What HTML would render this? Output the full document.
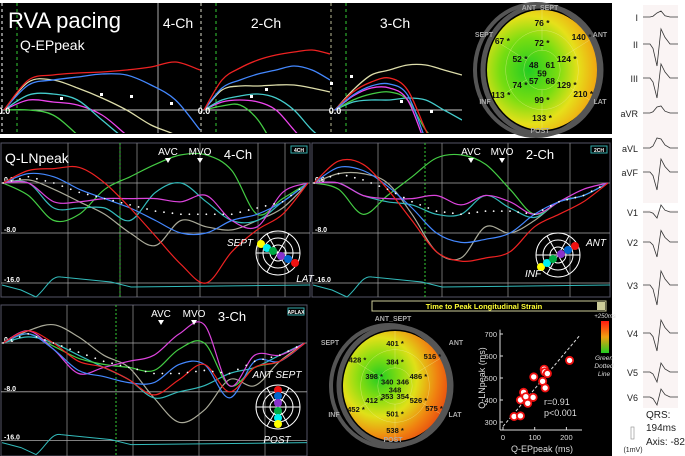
<!DOCTYPE html>
<html><head><meta charset="utf-8">
<style>
html,body{margin:0;padding:0;background:#fff;}
svg{display:block;font-family:"Liberation Sans",sans-serif;}
</style></head>
<body>
<svg id="fig" width="685" height="456" viewBox="0 0 685 456" xmlns="http://www.w3.org/2000/svg">
<defs>
<clipPath id="cTop"><rect x="0" y="3" width="462" height="130"/></clipPath>
<clipPath id="cM1"><rect x="1" y="143" width="309" height="154"/></clipPath>
<clipPath id="cM2"><rect x="312" y="143" width="298" height="154"/></clipPath>
<clipPath id="cB1"><rect x="1" y="305" width="306" height="151"/></clipPath>
<radialGradient id="bTop" cx="0.38" cy="0.5" r="0.75">
<stop offset="0" stop-color="#22cc22"/><stop offset="0.35" stop-color="#77dd11"/><stop offset="0.6" stop-color="#e6e01a"/><stop offset="0.85" stop-color="#f0a010"/><stop offset="1" stop-color="#e84010"/></radialGradient>
<radialGradient id="bBot" cx="0.35" cy="0.42" r="0.8">
<stop offset="0" stop-color="#22cc22"/><stop offset="0.25" stop-color="#88dd11"/><stop offset="0.45" stop-color="#e0e018"/><stop offset="0.7" stop-color="#f08010"/><stop offset="1" stop-color="#e02010"/></radialGradient>
<linearGradient id="cbar" x1="0" y1="0" x2="0" y2="1"><stop offset="0" stop-color="#ff1a10"/><stop offset="0.5" stop-color="#f0a010"/><stop offset="1" stop-color="#22cc22"/></linearGradient>
</defs>
<rect x="0" y="0" width="685" height="456" fill="#fff"/>
<rect x="0" y="3" width="612" height="131" fill="#000"/>
<rect x="0" y="138" width="612" height="318" fill="#000"/>
</svg>
<script>
// ===== data =====
var qepValues = ["76","72","140","67","52","48","61","124","59","74","57","68","129","113","99","210","133"];
var qlnValues = ["401","384","516","428","398","340","346","486","348","412","353","354","526","452","501","575","538"];
var scatterX = [35,55,55,65,72,78,95,97,125,130,132,140,133,210];
var scatterY = [325,328,400,435,415,385,412,505,485,540,528,520,455,580];
var scatterXTicks = [0,100,200];
var scatterYTicks = [300,400,500,600,700];
var strainTicks = [0,-8,-16];
var top4Red=[0,30,35,37,38,40,43,48,40];
var top4Blue=[0,25,30,33,36,35,25,10,-20];
var top4Olive=[0,28,30,22,12,0,-15,-25,-40];
var top4Cyan=[0,15,16,10,-10,-30,-45,-50,-50];
var top4Mag=[0,10,8,5,-5,-25,-45,-45,-35];
var top4Green=[0,0,-5,-25,-50,-70,-80,-80,-80];
var top2Red=[0,30,42,50,55,58,60,56];
var top2Blue=[0,22,30,36,40,44,40,30];
var top2Olive=[0,20,24,24,25,25,22,18];
var top2Cyan=[0,10,14,16,12,0,-20,-35];
var top2Mag=[0,8,10,8,0,-20,-40,-50];
var top2Green=[0,4,5,-10,-40,-70,-85,-90];
var top3Red=[0,18,28,32,20,-20,-60,-85];
var top3Blue=[0,15,24,26,15,-30,-75,-95];
var top3Mag=[0,14,22,22,10,-35,-80,-100];
var top3Green=[0,10,16,18,10,-20,-40,-60];
var top3Cyan=[0,8,10,10,12,10,0,-10];
var top3Olive=[0,20,35,40,45,45,40,35];
var m4Red=[0,2,2.3,2.5,0,-4,-8.5,-13,-16,-11,-7.5,-5,0];
var m4Green=[0,-2,-6,-5,-1,1,3,4.5,4.5,2,-5,-2.5,0];
var m4Blue=[0,1.5,1,-1,-2.5,-4,-6,-8,-8,-6,-5,-3,0];
var m4Mag=[0,0,-3,-3,-2.5,-2.5,-2.5,-3,-2,-6,-7,-1.5,0];
var m4Cyan=[0,0,-4,-4,-4,-6,-1.5,0,-3,-6,-6,-3,0];
var m4Olive=[0,0.5,-1,-3,-5,-8,-10,-6,-7,-7.5,-6,-4,0];
var m4Avg=[0,1,0,-1.5,-2.5,-3.5,-4.5,-5,-5,-5,-4,-3,0];
var m2Red=[0,3.5,3,-1,-6,-11,-12.5,-12,-11,-7,-5,-3,0];
var m2Green=[0,-1,-5,-2,1,4,4.5,3,-1,-5,-3,-2,0];
var m2Blue=[0,2.5,2,-0.5,-4,-8,-9.5,-9,-8,-5,-3,-2,0];
var m2Mag=[0,0,-2,-2.5,-2.5,-2,-3.5,-2,-3,-5,-3,-1,0];
var m2Cyan=[0,0,-2,-3,-3.5,-5,-5,-2,-4,-5.5,-3,-2,0];
var m2Olive=[0,1.5,1.5,0,-5,-11,-12,-7,-8,-6,-3,-2,0];
var m2Avg=[0,1.5,0.5,-1,-3,-4.5,-5,-4.5,-4.5,-5,-3,-2,0];
var b3Red=[0,2,0,-3,-4,-6,-8.5,-6,-3.5,-8,-4,-3,0];
var b3Green=[0,1.5,-0.5,-2.5,-3.5,-4,-4.5,-1,0,-7,-4,-3,0];
var b3Blue=[0,1.5,-1,-4.5,-5.5,-6.5,-6.5,-3.5,-3.5,-9,-3,-3,0];
var b3Mag=[0,2,-1,-5,-4,-3,-2,1.5,3,-7,-2,-2,0];
var b3Cyan=[0,1,0,-2,-4,-6,-9,-8,-7,-5,-4,-2,0];
var b3Olive=[0,2,3,1,-2,-4,-9,-13,-11,-6,-7,-3,0];
var b3Avg=[0,1.5,0,-1.5,-3,-4,-5,-5,-4.5,-5,-3,-2,0];
var ecgLeads=["I","II","III","aVR","aVL","aVF","V1","V2","V3","V4","V5","V6"];
var ecgAmp=[4,-22,-20,6,10,-18,-6,-15,-20,-18,-10,-8];

var NS="http://www.w3.org/2000/svg";
var root=document.getElementById('fig');
function mk(tag,attrs,parent){var e=document.createElementNS(NS,tag);for(var k in attrs)e.setAttribute(k,attrs[k]);(parent||root).appendChild(e);return e;}
function txt(x,y,s,size,fill,anchor,extra){var t=mk('text',Object.assign({x:x,y:y,'font-size':size,fill:fill,'text-anchor':anchor||'start'},extra||{}));t.textContent=s;return t;}
function smooth(pts){var d="M"+pts[0][0]+","+pts[0][1];for(var i=0;i<pts.length-1;i++){var p0=pts[i-1]||pts[i],p1=pts[i],p2=pts[i+1],p3=pts[i+2]||p2;var c1x=p1[0]+(p2[0]-p0[0])/6,c1y=p1[1]+(p2[1]-p0[1])/6,c2x=p2[0]-(p3[0]-p1[0])/6,c2y=p2[1]-(p3[1]-p1[1])/6;d+=" C"+c1x.toFixed(1)+","+c1y.toFixed(1)+" "+c2x.toFixed(1)+","+c2y.toFixed(1)+" "+p2[0].toFixed(1)+","+p2[1].toFixed(1);}return d;}
function series(vals,x0,x1,yfn){var pts=[];for(var i=0;i<vals.length;i++){pts.push([x0+(x1-x0)*i/(vals.length-1),yfn(vals[i])]);}return pts;}

// ===== top panel =====
var tg=mk('g',{'clip-path':'url(#cTop)'});


[[2,'#fff'],[17,'#3c3'],[201,'#ddc'],[216,'#3c3'],[331,'#bb9'],[346,'#3c3']].forEach(function(v){mk('line',{x1:v[0],y1:3,x2:v[0],y2:134,stroke:v[1],'stroke-dasharray':'3,3','stroke-width':1},tg);});
mk('line',{x1:158,y1:3,x2:158,y2:134,stroke:'#aaa','stroke-width':1},tg);
var baseY=110;
[[2,200],[202,330],[333,462]].forEach(function(r){mk('line',{x1:r[0],y1:baseY,x2:r[1],y2:baseY,stroke:'#ccc','stroke-width':1},tg);});
function topSet(list,x0,x1){list.forEach(function(s){var p=series(s[0],x0,x1,function(v){return baseY-v;});var e=mk('path',{d:smooth(p),fill:'none',stroke:s[1],'stroke-width':1.3},tg);});}
topSet([[top4Green,'#4c4'],[top4Mag,'#e4e'],[top4Cyan,'#4cc'],[top4Olive,'#dda'],[top4Blue,'#48f'],[top4Red,'#e22']],4,200);
topSet([[top2Green,'#4c4'],[top2Mag,'#e4e'],[top2Cyan,'#4cc'],[top2Olive,'#dda'],[top2Blue,'#48f'],[top2Red,'#e22']],204,330);
topSet([[top3Olive,'#dda'],[top3Cyan,'#4cc'],[top3Green,'#4c4'],[top3Red,'#e22'],[top3Mag,'#e4e'],[top3Blue,'#48f']],335,462);
[[60,97],[100,93],[130,95],[170,102],[250,95],[265,88],[330,82],[350,75],[400,100],[430,110]].forEach(function(p){mk('rect',{x:p[0],y:p[1],width:3,height:3,fill:'#fff'},tg);});
txt(8,28,'RVA pacing',22,'#fff');
txt(20,50,'Q-EPpeak',14,'#fff');
txt(178,28,'4-Ch',14,'#fff','middle');
txt(266,28,'2-Ch',14,'#fff','middle');
txt(395,28,'3-Ch',14,'#fff','middle');
[4,204,335].forEach(function(x){txt(x,114,'0.0',9,'#fff','middle',{'font-weight':'bold'});});

function bullseye(cx,cy,rx,ry,fill,vals,name,labelsPos){
 var g=mk('g',{});
 mk('ellipse',{cx:cx-6,cy:cy,rx:rx+6,ry:ry+6,fill:'none',stroke:'#555','stroke-width':4},g);
 mk('ellipse',{cx:cx,cy:cy,rx:rx+4,ry:ry+4,fill:'none',stroke:'#555','stroke-width':5},g);
 mk('ellipse',{cx:cx,cy:cy,rx:rx,ry:ry,fill:fill},g);
 [0.33,0.66].forEach(function(f){mk('ellipse',{cx:cx,cy:cy,rx:rx*f,ry:ry*f,fill:'none',stroke:'#ee9','stroke-width':0.5,opacity:0.6},g);});
 for(var a=0;a<6;a++){var an=a*Math.PI/3+Math.PI/6;mk('line',{x1:cx+rx*0.33*Math.cos(an),y1:cy+ry*0.33*Math.sin(an),x2:cx+rx*Math.cos(an),y2:cy+ry*Math.sin(an),stroke:'#ee9','stroke-width':0.5,opacity:0.6},g);}
 var rel=[[0,-0.78],[0,-0.45],[0.72,-0.55],[-0.72,-0.48],[-0.4,-0.18],[-0.15,-0.08],[0.15,-0.08],[0.45,-0.18],[0,0.06],[-0.4,0.25],[-0.15,0.18],[0.15,0.18],[0.45,0.25],[-0.75,0.42],[0,0.5],[0.75,0.4],[0,0.8]];
 vals.forEach(function(v,i){var star=[5,6,8,10,11].indexOf(i)<0?' *':'';var t=txt(cx+rel[i][0]*rx,cy+rel[i][1]*ry+3,v+star,ry>55?8.5:7.5,'#111','middle',{'font-weight':'bold'});g.appendChild(t);});
 labelsPos.forEach(function(l){var t=txt(l[0],l[1],l[2],7,'#aaa','middle',{'font-weight':'bold'});g.appendChild(t);});
}
bullseye(542,70,55,60,'url(#bTop)',qepValues,'q-ep-bullseye',[[540,10,'ANT_SEPT'],[484,37,'SEPT'],[600,37,'ANT'],[485,104,'INF'],[600,104,'LAT'],[540,133,'POST']]);

function strainPanel(x0,y0,x1,y1,y0val,pxPer,clip,sets,avg,name,label,vgrid,greenX,avcX,mvoX,tag){
 var g=mk('g',{});
 mk('rect',{x:x0,y:y0,width:x1-x0,height:y1-y0,fill:'none',stroke:'#556',"stroke-width":1},g);
 function ys(v){return y0val-v*pxPer;}
 vgrid.forEach(function(x){mk('line',{x1:x,y1:y0,x2:x,y2:y1,stroke:'#888','stroke-width':0.8},g);});
 mk('line',{x1:greenX,y1:y0,x2:greenX,y2:y1,stroke:'#3c3','stroke-dasharray':'2,2','stroke-width':1},g);
 strainTicks.forEach(function(t){mk('line',{x1:x0,y1:ys(t),x2:x1,y2:ys(t),stroke:'#aaa','stroke-width':0.8},g);var tt=txt(x0+3,ys(t)-1,(t===0?'0.0':t.toFixed(1)),7,'#fff','start',{'font-weight':'bold'});g.appendChild(tt);});
 var cg=mk('g',{'clip-path':'url(#'+clip+')'},g);
 sets.forEach(function(s){var p=series(s[0],x0+2,x1-2,ys);var e=mk('path',{d:smooth(p),fill:'none',stroke:s[1],'stroke-width':1.2},cg);});
 var pa=series(avg,x0+2,x1-2,ys);for(var i=0;i<pa.length-1;i++){for(var k=0;k<3;k++){var f=k/3;mk('circle',{cx:pa[i][0]+(pa[i+1][0]-pa[i][0])*f,cy:pa[i][1]+(pa[i+1][1]-pa[i][1])*f,r:0.9,fill:'#fff'},cg);}}
 var bl=ys(-16)+2;mk('path',{d:'M'+(x0+1)+','+bl+' L'+(x0+20)+','+(bl+5)+' L'+(x0+35)+','+(bl+12)+' C'+(x0+45)+','+(bl+4)+' '+(x0+50)+','+(bl-10)+' '+(x0+60)+','+(bl-8)+' L'+(x0+110)+','+(bl-3)+' L'+(x0+130)+','+(bl+2)+' L'+x1+','+(bl)+'',fill:'none',stroke:'#3bb','stroke-width':1},g);
 [[avcX,'AVC'],[mvoX,'MVO']].forEach(function(m){var t=txt(m[0],y0+12,m[1],10,'#fff','middle');g.appendChild(t);mk('path',{d:'M'+(m[0]-3)+','+(y0+15)+' L'+(m[0]+3)+','+(y0+15)+' L'+m[0]+','+(y0+20)+'Z',fill:'#fff'},g);});
 var lt=txt(mvoX+38,y0+16,label,13,'#fff','middle');g.appendChild(lt);
 mk('rect',{x:x1-19,y:y0+3,width:16,height:7,fill:'#000',stroke:'#3aa','stroke-width':1},g);
 var tg2=txt(x1-11,y0+9,tag,5,'#fff','middle',{'font-weight':'bold'});g.appendChild(tg2);
 return g;
}
strainPanel(1,143,310,297,183,6.25,'cM1',[[m4Olive,'#aa9'],[m4Cyan,'#3bb'],[m4Green,'#4c4'],[m4Mag,'#d4d'],[m4Blue,'#48f'],[m4Red,'#e22']],m4Avg,'strain-4ch-panel','4-Ch',[68,120,137,200,258,285],120,168,200,'4CH');
strainPanel(312,143,610,297,183,6.25,'cM2',[[m2Olive,'#aa9'],[m2Cyan,'#3bb'],[m2Green,'#4c4'],[m2Mag,'#d4d'],[m2Blue,'#48f'],[m2Red,'#e22']],m2Avg,'strain-2ch-panel','2-Ch',[378,442,508,570],425,471,502,'2CH');
strainPanel(1,305,307,456,343,6.1,'cB1',[[b3Olive,'#aa9'],[b3Cyan,'#3bb'],[b3Green,'#4c4'],[b3Mag,'#d4d'],[b3Blue,'#48f'],[b3Red,'#e22']],b3Avg,'strain-3ch-panel','3-Ch',[67,133,199,265],116,161,194,'APLAX');
txt(5,163,'Q-LNpeak',14,'#fff');

function wheel(cx,cy,dots,labels,name){var g=mk('g',{});
 [22,15,8].forEach(function(r){mk('circle',{cx:cx,cy:cy,r:r,fill:'none',stroke:'#fff','stroke-width':1},g);});
 for(var a=0;a<3;a++){var an=a*Math.PI/3;mk('line',{x1:cx-22*Math.cos(an),y1:cy-22*Math.sin(an),x2:cx+22*Math.cos(an),y2:cy+22*Math.sin(an),stroke:'#fff','stroke-width':1},g);}
 dots.forEach(function(d){mk('circle',{cx:cx+d[0],cy:cy+d[1],r:4,fill:d[2]},g);});
 labels.forEach(function(l){g.appendChild(txt(l[0],l[1],l[2],10,'#fff','middle',{'font-style':'italic'}));});}
wheel(278,253,[[-17,-9,'#ff0'],[-11,-5,'#0ee'],[-5,-2,'#0a4'],[3,3,'#83c'],[10,6,'#06c'],[17,10,'#e11']],[[240,246,'SEPT'],[305,282,'LAT']],'wheel-4ch');
wheel(558,255,[[-17,12,'#ff0'],[-11,8,'#0ee'],[-5,4,'#0a4'],[3,-1,'#83c'],[10,-5,'#06c'],[17,-9,'#e11']],[[596,246,'ANT'],[533,277,'INF']],'wheel-2ch');
wheel(278,407,[[0,-17,'#e11'],[0,-11,'#06c'],[0,-4,'#83c'],[0,4,'#0a4'],[0,11,'#0ee'],[0,17,'#ff0']],[[277,378,'ANT SEPT'],[277,443,'POST']],'wheel-3ch');

mk('rect',{x:372,y:301,width:234,height:10,fill:'#000',stroke:'#cc9','stroke-width':1});
txt(484,309,'Time to Peak Longitudinal Strain',7.5,'#ff3','middle',{'font-weight':'bold'});
var dd=mk('rect',{x:597,y:302,width:8,height:8,fill:'#cc9'});



bullseye(395,386,52,55,'url(#bBot)',qlnValues,'q-ln-bullseye',[[393,321,'ANT_SEPT'],[330,345,'SEPT'],[456,345,'ANT'],[334,417,'INF'],[455,417,'LAT'],[393,442,'POST']]);

mk('rect',{x:601,y:321,width:8,height:32,fill:'url(#cbar)'});
txt(605,318,'+250ms',6,'#ddd','middle',{'font-style':'italic'});
txt(604,360,'Green',6.5,'#ddd','middle',{'font-style':'italic'});
txt(604,368,'Dotted',6.5,'#ddd','middle',{'font-style':'italic'});
txt(604,376,'Line',6.5,'#ddd','middle',{'font-style':'italic'});

var sx=function(v){return 503+v*0.317;};
var sy=function(v){return 422-(v-300)*0.22;};
var sg=mk('g',{});
mk('line',{x1:500,y1:sy(720),x2:500,y2:430,stroke:'#ddd','stroke-width':1},sg);
mk('line',{x1:500,y1:430,x2:582,y2:430,stroke:'#ddd','stroke-width':1},sg);
scatterYTicks.forEach(function(t){mk('line',{x1:500,y1:sy(t),x2:503,y2:sy(t),stroke:'#ddd'},sg);sg.appendChild(txt(497,sy(t)+3,String(t),7.5,'#ddd','end'));});
scatterXTicks.forEach(function(t){mk('line',{x1:sx(t),y1:430,x2:sx(t),y2:427,stroke:'#ddd'},sg);sg.appendChild(txt(sx(t),440,String(t),7.5,'#ddd','middle'));});
mk('line',{x1:sx(0),y1:sy(280),x2:sx(240),y2:sy(690),stroke:'#ddd','stroke-dasharray':'3,2','stroke-width':1},sg);
for(var i=0;i<scatterX.length;i++){var c=mk('circle',{cx:sx(scatterX[i]),cy:sy(scatterY[i]),r:3.6,fill:'#fff',stroke:'#e11','stroke-width':1.8},sg);}
sg.appendChild(txt(544,405,'r=0.91',9,'#ddd','start'));
sg.appendChild(txt(544,416,'p<0.001',9,'#ddd','start'));
sg.appendChild(txt(542,452,'Q-EPpeak (ms)',9,'#ddd','middle'));
sg.appendChild(txt(485,378,'Q-LNpeak (ms)',9,'#ddd','middle',{transform:'rotate(-90 485 378)'}));

var eg=mk('g',{});
mk('rect',{x:643,y:5,width:35,height:198,fill:'#faf4f4'},eg);
mk('rect',{x:643,y:210,width:35,height:198,fill:'#faf4f4'},eg);
var ecgY=[17,44,78,113,148,172,212,242,285,333,372,397];
ecgLeads.forEach(function(l,i){var y=ecgY[i];eg.appendChild(txt(638,y+4,l,9,'#222','end'));var a=-ecgAmp[i];var d='M643,'+y+' L650,'+y+' L653,'+(y+a*0.2)+' L657,'+(y+a)+' L661,'+(y-Math.abs(a)*0.5-4)+' L665,'+(y-Math.abs(a)*0.3)+' L670,'+y+' L678,'+y;mk('path',{d:d,fill:'none',stroke:'#333','stroke-width':0.8},eg);});
eg.appendChild(txt(646,418,'QRS:',10,'#222'));
eg.appendChild(txt(646,431,'194ms',10,'#222'));
eg.appendChild(txt(646,445,'Axis: -82°',10,'#222'));
mk('rect',{x:631,y:427,width:3,height:12,fill:'none',stroke:'#888','stroke-width':0.6},eg);
eg.appendChild(txt(633,452,'(1mV)',7,'#222','middle'));
</script>
</body></html>
